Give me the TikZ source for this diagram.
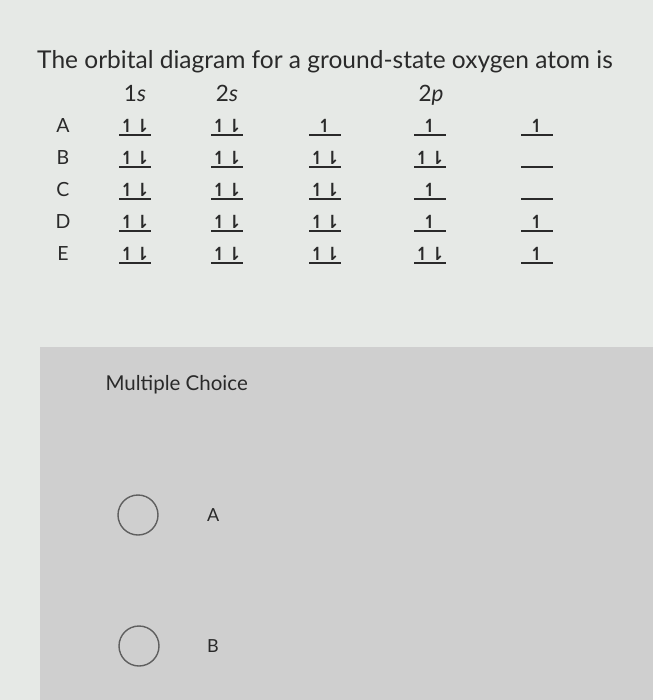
\documentclass[tikz,border=0pt]{standalone}
\usepackage{fontspec}
\setmainfont{Lato}
\newfontfamily\arrowfont{DejaVu Sans}
\usetikzlibrary{positioning}
\definecolor{screen}{HTML}{E6E9E6}
\definecolor{panel}{HTML}{CFCFCF}
\definecolor{ink}{HTML}{2A2A2A}
\tikzset{
  orbital/.style={anchor=south, minimum width=31pt, inner sep=0pt, text height=12pt, text depth=2pt,
    font=\arrowfont\bfseries\fontsize{18}{18}\selectfont, text=ink},
  orbline/.style={line width=1.8pt, draw=ink},
  rowlabel/.style={anchor=base, font=\fontsize{19.5}{19.5}\selectfont, text=ink},
  header/.style={anchor=base, font=\fontsize{22.5}{22.5}\selectfont, text=ink},
  radio/.style={circle, draw=ink!75, line width=1.4pt, minimum size=40pt, inner sep=0pt},
}
\newcommand{\spinup}{\makebox[9pt]{↿}}
\newcommand{\spinpair}{\makebox[9pt]{↿}\hspace{6pt}\makebox[9pt]{⇂}}
\begin{document}
\begin{tikzpicture}[x=1pt,y=-1pt]
  % screen and answer panel
  \fill[screen] (0,0) rectangle (653,700);
  \fill[panel] (40,347) rectangle (653,700);
  \useasboundingbox (0,0) rectangle (653,700);

  % question
  \node[anchor=base, font=\fontsize{24.5}{24.5}\selectfont, text=ink] (title) at (325,69)
    {The orbital diagram for a ground-state oxygen atom is};
  \node[header] (h1s) at (135,102) {1\textit{s}};
  \node[header] (h2s) at (227,102) {2\textit{s}};
  \node[header] (h2p) at (431,102) {2\textit{p}};

  % rows of choices
  \foreach \r/\y/\pa/\pb/\pc in {A/135/\spinup/\spinup/\spinup,
                                  B/167/\spinpair/\spinpair/{},
                                  C/199/\spinpair/\spinup/{},
                                  D/231/\spinpair/\spinup/\spinup,
                                  E/263/\spinpair/\spinpair/\spinup} {
    \node[rowlabel] (\r) at (63,\y-2) {\r};
    \node[orbital] (\r-1s) at (135,\y) {\spinpair};
    \node[orbital] (\r-2s) at (227,\y) {\spinpair};
    \node[orbital] (\r-px) at (325,\y) {\pa};
    \node[orbital] (\r-py) at (430,\y) {\pb};
    \node[orbital] (\r-pz) at (537,\y) {\pc};
    \foreach \o in {1s,2s,px,py,pz}
      \draw[orbline] (\r-\o.south west) -- (\r-\o.south east);
  }

  % answer options
  \node[anchor=west, font=\fontsize{20.5}{20.5}\selectfont, text=ink] (mc) at (102,385) {Multiple Choice};
  \node[radio] (radioA) at (138,515) {};
  \node[radio] (radioB) at (139,646) {};
  \node[right=45pt of radioA, font=\fontsize{18}{18}\selectfont, text=ink] (optA) {A};
  \node[right=44pt of radioB, font=\fontsize{18}{18}\selectfont, text=ink] (optB) {B};
\end{tikzpicture}
\end{document}
